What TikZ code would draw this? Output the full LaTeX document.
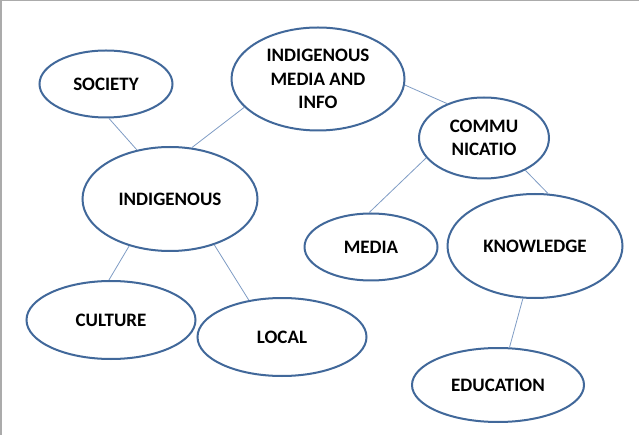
\documentclass[tikz,border=0pt]{standalone}
\usepackage{fontspec}
\setmainfont{Carlito}
\usetikzlibrary{shapes.geometric}

\definecolor{rim}{HTML}{41689A}
\definecolor{wire}{HTML}{7F9CC4}
\definecolor{frame}{HTML}{ABABAB}

\begin{document}
\begin{tikzpicture}[x=1pt, y=-1pt,
        bubble/.style={ellipse, draw=rim, line width=2pt, fill=white, inner sep=0pt,
            align=center, font=\fontsize{19}{23.3}\selectfont\bfseries},
        link/.style={draw=wire, line width=0.8pt}]
                \useasboundingbox (0,0) rectangle (639,435);
                \draw[frame, line width=3pt] (0,435) -- (0,0) -- (639,0);

                \node[bubble, minimum width=133pt, minimum height=67pt] (society) at (106,84) {SOCIETY};
                \node[bubble, minimum width=173pt, minimum height=103pt] (indmedia) at (318,79) {INDIGENOUS\\MEDIA AND\\INFO};
                \node[bubble, minimum width=175pt, minimum height=104pt] (indig) at (170,199) {INDIGENOUS};
                \node[bubble, minimum width=130pt, minimum height=81pt] (commu) at (484,138) {COMMU\\NICATIO};
                \node[bubble, minimum width=133pt, minimum height=67pt] (media) at (371,247) {MEDIA};
                \node[bubble, minimum width=175pt, minimum height=104pt] (know) at (535,246) {KNOWLEDGE};
                \node[bubble, minimum width=172pt, minimum height=74pt] (edu) at (498,385) {EDUCATION};
                \node[bubble, minimum width=169pt, minimum height=78pt] (culture) at (111,320) {CULTURE};
                \node[bubble, minimum width=169pt, minimum height=78pt] (local) at (282,337) {LOCAL};

                \draw[link]
                    (society.-85) -- (indig.124)
                    (indmedia.-159) -- (indig.67)
                    (indmedia.-4) -- (commu.137)
                    (commu.-161) -- (media.93)
                    (commu.-38) -- (know.76)
                    (know.-103) -- (edu.73)
                    (indig.-131) -- (culture.93)
                    (indig.-46) -- (local.132);

             \end{tikzpicture}
\end{document}
